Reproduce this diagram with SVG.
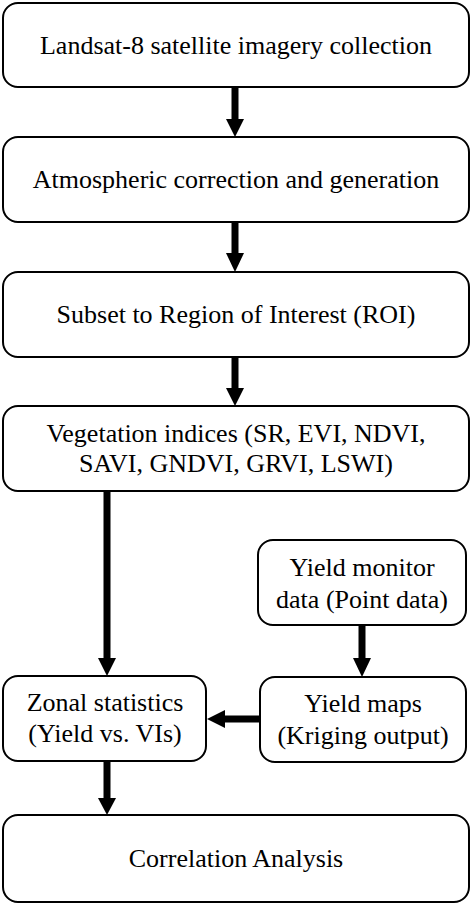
<svg xmlns="http://www.w3.org/2000/svg" width="474" height="905" viewBox="0 0 474 905">
<style>
.box{fill:#fff;stroke:#000;stroke-width:2}
.t{font-family:"Liberation Serif","Times New Roman",serif;font-size:26px;fill:#000;text-anchor:middle}
.sh{fill:none;stroke:#000;stroke-width:7}
.hd{fill:#000}
</style>
<rect width="474" height="905" fill="#fff"/>
<g id="connectors">
<line class="sh" x1="235" y1="88" x2="235" y2="121"/><polygon class="hd" points="226,119 244,119 235,137"/>
<line class="sh" x1="235" y1="222" x2="235" y2="255"/><polygon class="hd" points="226,253 244,253 235,272"/>
<line class="sh" x1="235" y1="357" x2="235" y2="390"/><polygon class="hd" points="226,388 244,388 235,406"/>
<line class="sh" x1="107" y1="491" x2="107" y2="660"/><polygon class="hd" points="98,658 116,658 107,676"/>
<line class="sh" x1="362" y1="625" x2="362" y2="660"/><polygon class="hd" points="353,658 371,658 362,677"/>
<line class="sh" x1="260" y1="719" x2="223" y2="719"/><polygon class="hd" points="225,710 225,728 207,719"/>
<line class="sh" x1="107" y1="762" x2="107" y2="800"/><polygon class="hd" points="98,798 116,798 107,815"/>
</g>
<g id="n1"><rect class="box" x="3" y="3" width="466" height="84" rx="15"/><text class="t" x="236" y="54">Landsat-8 satellite imagery collection</text></g>
<g id="n2"><rect class="box" x="3" y="137" width="466" height="85" rx="15"/><text class="t" x="236" y="188">Atmospheric correction and generation</text></g>
<g id="n3"><rect class="box" x="3" y="272" width="466" height="85" rx="15"/><text class="t" x="236" y="323">Subset to Region of Interest (ROI)</text></g>
<g id="n4"><rect class="box" x="3" y="406" width="466" height="85" rx="15"/><text class="t" x="236" y="442">Vegetation indices (SR, EVI, NDVI,</text><text class="t" x="236" y="472">SAVI, GNDVI, GRVI, LSWI)</text></g>
<g id="n5"><rect class="box" x="258" y="540" width="208" height="85" rx="15"/><text class="t" x="362" y="576">Yield monitor</text><text class="t" x="362" y="608">data (Point data)</text></g>
<g id="n6"><rect class="box" x="3" y="676" width="203" height="85" rx="15"/><text class="t" x="105" y="711">Zonal statistics</text><text class="t" x="105" y="742">(Yield vs. VIs)</text></g>
<g id="n7"><rect class="box" x="260" y="677" width="206" height="85" rx="15"/><text class="t" x="363" y="712">Yield maps</text><text class="t" x="363" y="744">(Kriging output)</text></g>
<g id="n8"><rect class="box" x="3" y="815" width="466" height="87" rx="15"/><text class="t" x="236" y="867">Correlation Analysis</text></g>
</svg>
